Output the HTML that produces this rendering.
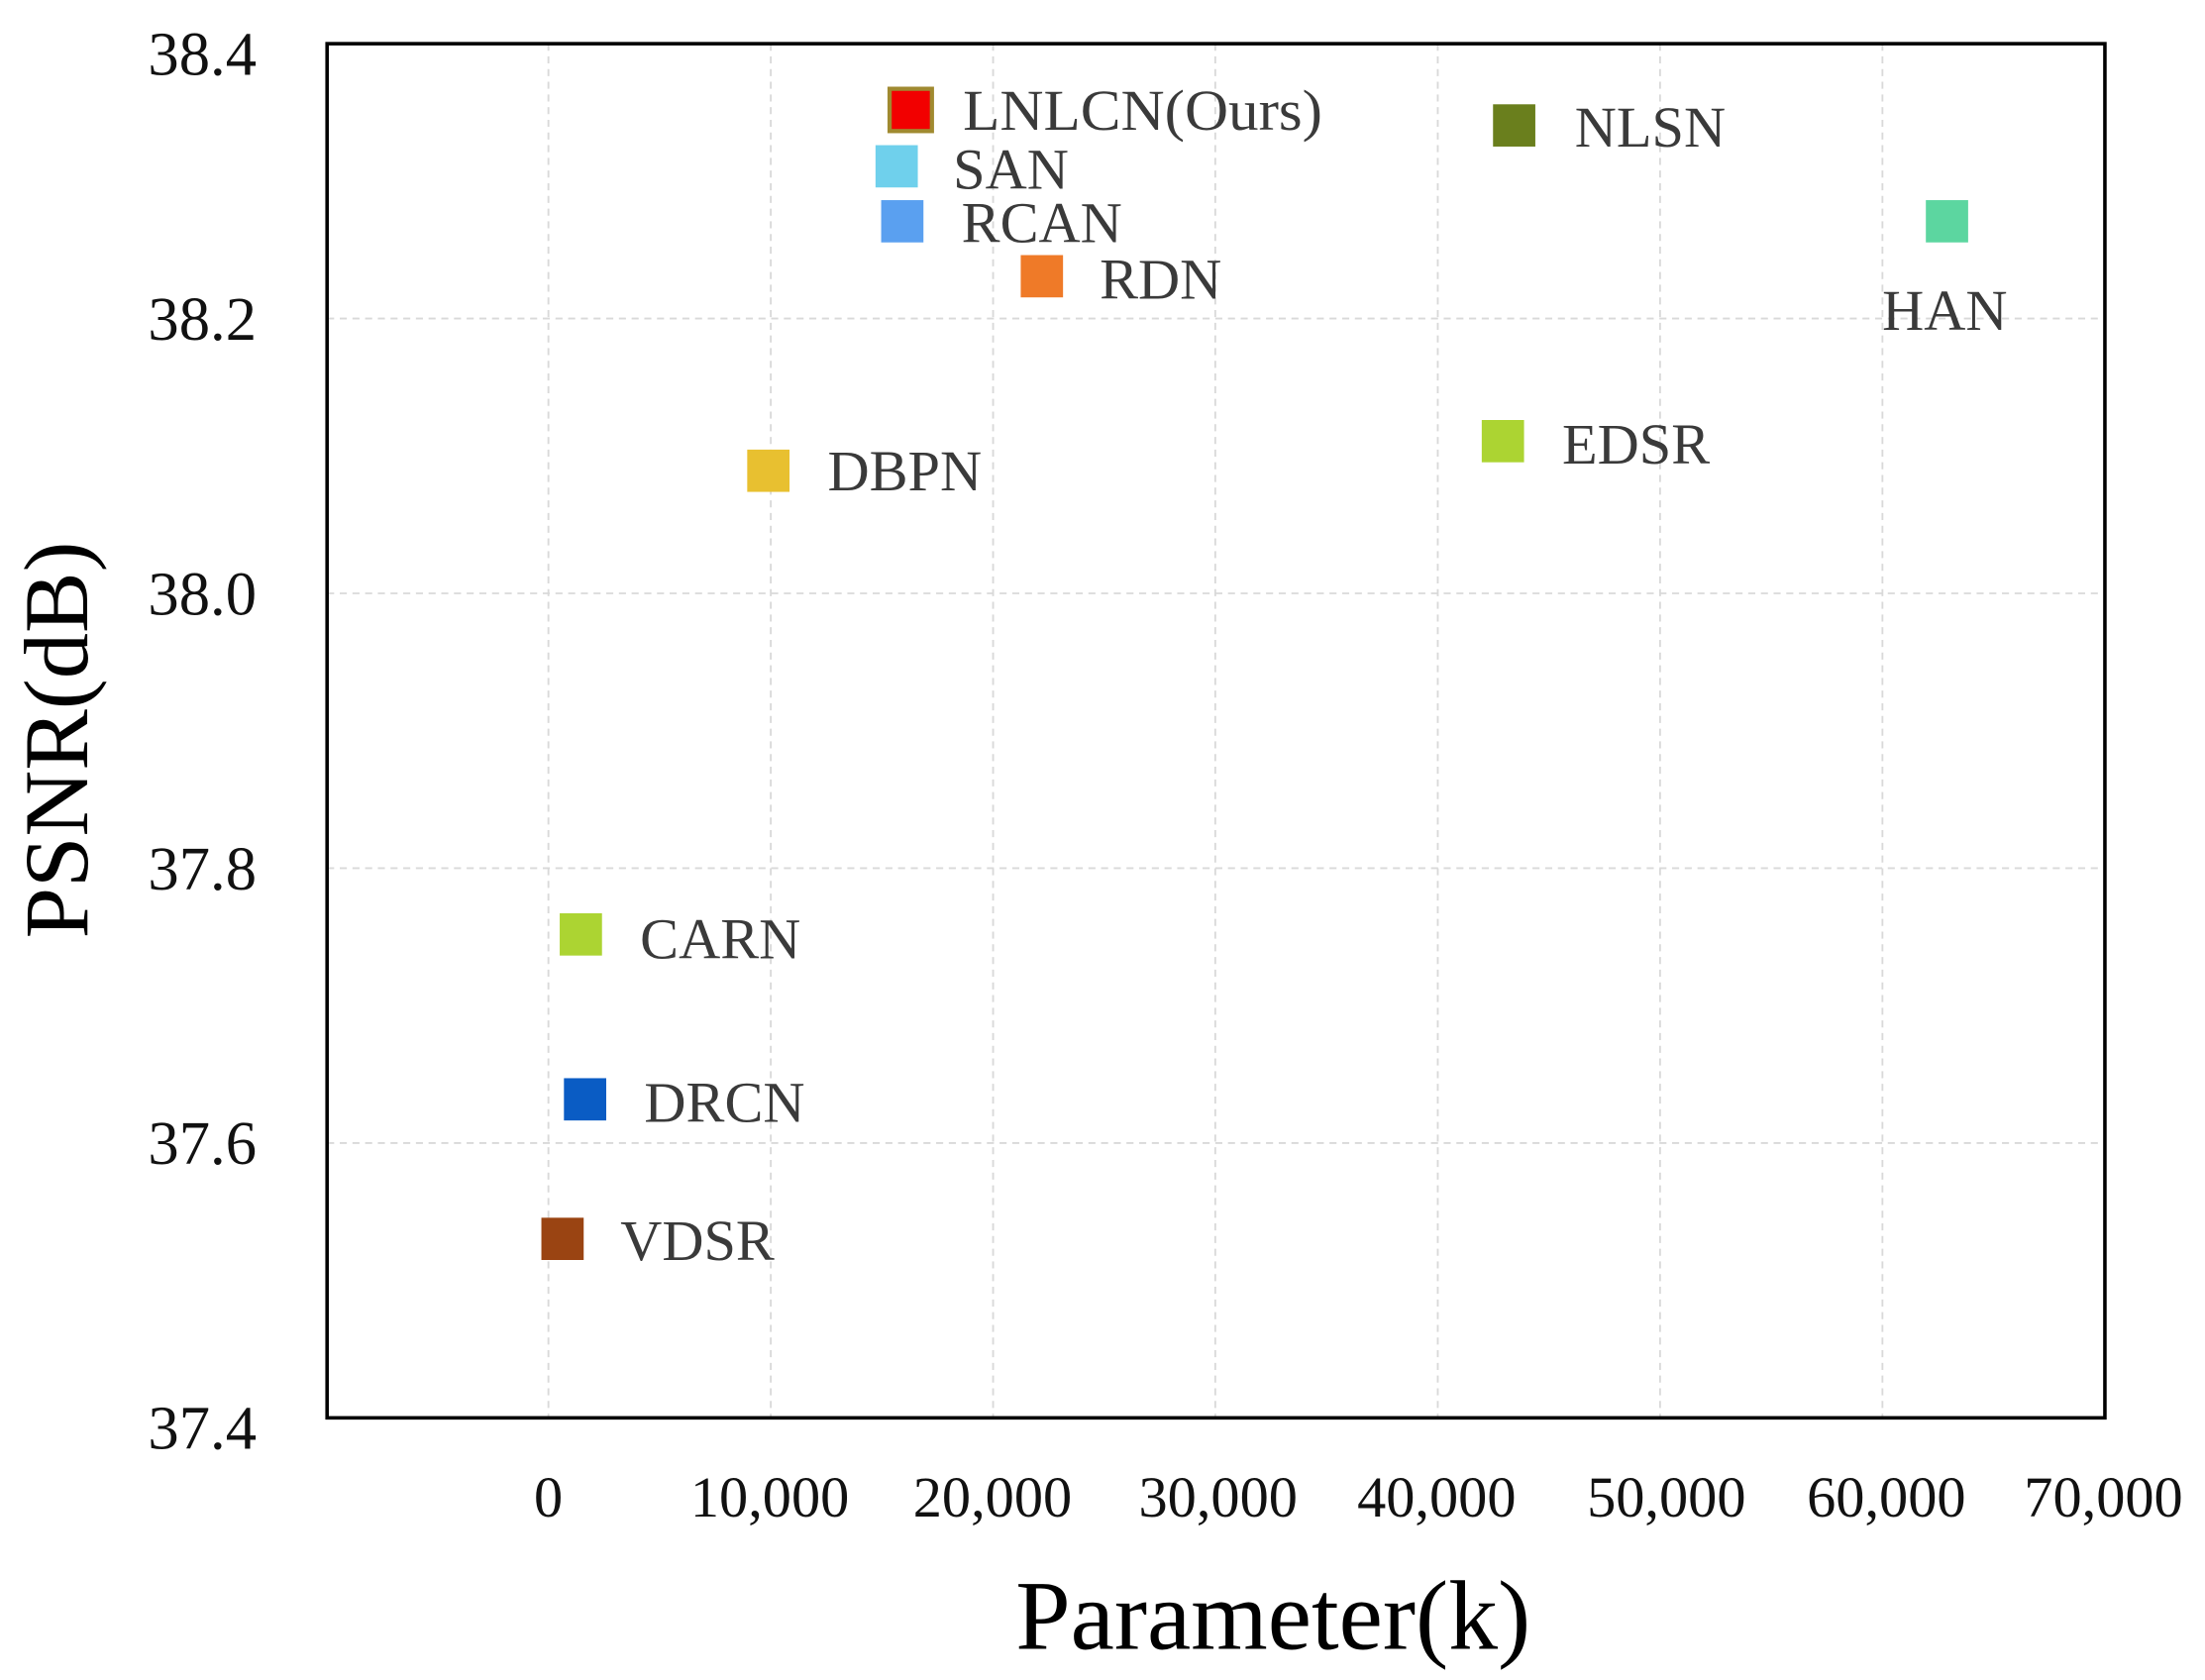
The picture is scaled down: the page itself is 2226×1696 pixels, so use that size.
<!DOCTYPE html>
<html><head><meta charset="utf-8"><style>html,body{margin:0;padding:0;background:#fff}svg{display:block}</style></head>
<body>
<svg width="2226" height="1696" viewBox="0 0 1564 1192" preserveAspectRatio="none" xmlns="http://www.w3.org/2000/svg">
<rect width="1564" height="1192" fill="#fff"/>
<g stroke="#d9d9d9" stroke-width="1.3" stroke-dasharray="5,4">
<line x1="389" y1="31" x2="389" y2="1006"/>
<line x1="546.7" y1="31" x2="546.7" y2="1006"/>
<line x1="704.4" y1="31" x2="704.4" y2="1006"/>
<line x1="862" y1="31" x2="862" y2="1006"/>
<line x1="1019.8" y1="31" x2="1019.8" y2="1006"/>
<line x1="1177.5" y1="31" x2="1177.5" y2="1006"/>
<line x1="1335.2" y1="31" x2="1335.2" y2="1006"/>
<line x1="232" y1="226" x2="1493" y2="226"/>
<line x1="232" y1="421" x2="1493" y2="421"/>
<line x1="232" y1="616" x2="1493" y2="616"/>
<line x1="232" y1="811" x2="1493" y2="811"/>
</g>
<rect x="232" y="31" width="1261" height="975" fill="none" stroke="#000" stroke-width="2.5"/>
<g font-family="Liberation Serif, serif" font-size="44" fill="#111" text-anchor="end">
<text x="182" y="53">38.4</text>
<text x="182" y="241">38.2</text>
<text x="182" y="436">38.0</text>
<text x="182" y="631">37.8</text>
<text x="182" y="826">37.6</text>
<text x="182" y="1028">37.4</text>
</g>
<g font-family="Liberation Serif, serif" font-size="41" fill="#111" text-anchor="middle">
<text x="389" y="1076">0</text>
<text x="546" y="1076">10,000</text>
<text x="704" y="1076">20,000</text>
<text x="864" y="1076">30,000</text>
<text x="1019" y="1076">40,000</text>
<text x="1182" y="1076">50,000</text>
<text x="1338" y="1076">60,000</text>
<text x="1492" y="1076">70,000</text>
</g>
<text x="903" y="1170" font-family="Liberation Serif, serif" font-size="70" fill="#000" text-anchor="middle">Parameter(k)</text>
<text transform="translate(62,525) rotate(-90)" font-family="Liberation Serif, serif" font-size="65" fill="#000" text-anchor="middle">PSNR(dB)</text>
<g>
<rect x="631" y="63" width="30" height="30" fill="#f20000" stroke="#a08a30" stroke-width="3"/>
<rect x="621" y="103" width="30" height="30" fill="#6fd0ec"/>
<rect x="625" y="142" width="30" height="30" fill="#5aa0f0"/>
<rect x="724" y="181" width="30" height="30" fill="#ef7a28"/>
<rect x="1059" y="74" width="30" height="30" fill="#6a7f1d"/>
<rect x="1366" y="142" width="30" height="30" fill="#5cd6a0"/>
<rect x="1051" y="298" width="30" height="30" fill="#acd432"/>
<rect x="530" y="319" width="30" height="30" fill="#e8c030"/>
<rect x="397" y="648" width="30" height="30" fill="#acd432"/>
<rect x="400" y="765" width="30" height="30" fill="#0a5cc4"/>
<rect x="384" y="864" width="30" height="30" fill="#9a4412"/>
</g>
<g font-family="Liberation Serif, serif" font-size="41" fill="#3a3a3a">
<text x="683" y="92" textLength="255" lengthAdjust="spacingAndGlyphs">LNLCN(Ours)</text>
<text x="676" y="134">SAN</text>
<text x="682" y="172">RCAN</text>
<text x="780" y="212">RDN</text>
<text x="1117" y="104">NLSN</text>
<text x="1335" y="234">HAN</text>
<text x="1108" y="329">EDSR</text>
<text x="587" y="348">DBPN</text>
<text x="454" y="680">CARN</text>
<text x="457" y="796">DRCN</text>
<text x="440" y="894">VDSR</text>
</g>
</svg>
</body></html>
